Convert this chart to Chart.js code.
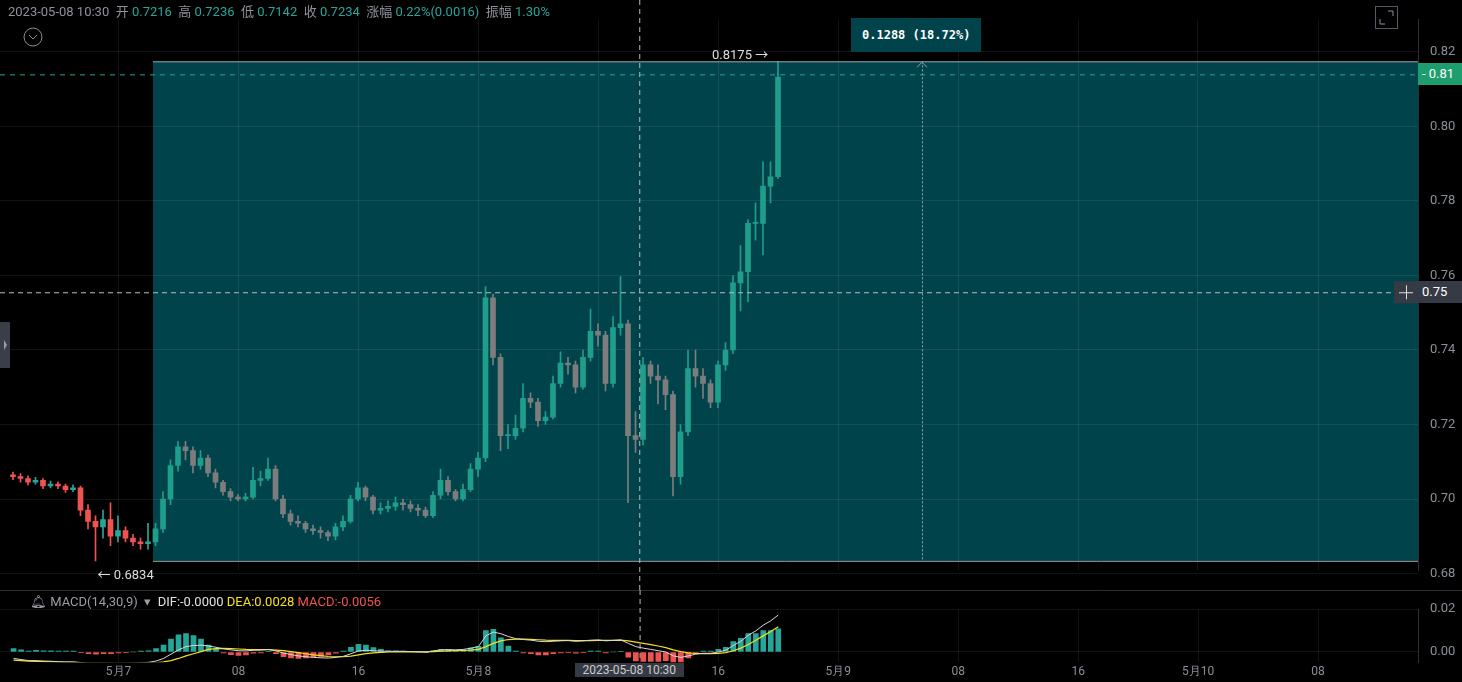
<!DOCTYPE html>
<html>
<head>
<meta charset="utf-8">
<script src="https://cdn.jsdelivr.net/npm/chart.js@4.4.0/dist/chart.umd.min.js"></script>
<style>
  body { margin: 0; background: #000; width: 1462px; height: 682px; overflow: hidden; font-family: Roboto, "Noto Sans CJK SC", sans-serif; }
  #wrap { position: relative; width: 1462px; height: 682px; }
  #main { position: absolute; left: 0; top: 0; }
  #macd { position: absolute; left: 0; top: 590px; }
  .lbl { position: absolute; white-space: nowrap; font-size: 13px; line-height: 16px; }
  #header { left: 8px; top: 4px; color: #8e919a; }
  #header b { font-weight: normal; color: #26a69a; }
  #macdLegend { left: 30px; top: 594px; color: #9a9da6; font-size: 13px; }
  .tag { position: absolute; font-size: 13px; line-height: 22px; height: 22px; width: 44px; padding-left: 4px; box-sizing: border-box; }
</style>
</head>
<body>
<div id="wrap">
  <canvas id="main" width="1462" height="590"></canvas>
  <canvas id="macd" width="1462" height="92"></canvas>
  <div class="lbl" id="header">2023-05-08 10:30 &nbsp;开 <b>0.7216</b> &nbsp;高 <b>0.7236</b> &nbsp;低 <b>0.7142</b> &nbsp;收 <b>0.7234</b> &nbsp;涨幅 <b>0.22%(0.0016)</b> &nbsp;振幅 <b>1.30%</b></div>
  <div class="lbl" id="macdLegend">🔔︎ MACD(14,30,9) &nbsp;▾ &nbsp;<span style="color:#e0e0e0">DIF:-0.0000</span> <span style="color:#f5e11b">DEA:0.0028</span> <span style="color:#ef5350">MACD:-0.0056</span></div>
  <div class="lbl" id="measure" style="background:#01434a;color:#fff;font-family:'DejaVu Sans Mono',monospace;font-weight:bold;font-size:12px;padding:9px 11px;">0.1288 (18.72%)</div>
  <div class="lbl" id="hiLbl" style="color:#ddd"></div>
  <div class="lbl" id="loLbl" style="color:#ddd"></div>
  <div class="tag" id="lastTag" style="background:#1e9e6e;color:#fff;">- 0.81</div>
  <div class="tag" id="crossTag" style="background:#363a45;color:#fff;">0.75</div>
  <div class="lbl" id="timeTag" style="background:#363a45;color:#ccc;font-size:12px;padding:0 8px;line-height:14px;">2023-05-08 10:30</div>
</div>
<script>
// 30-minute candles, hours counted from 2023-05-07 00:00
const firstHour = -7;
const firstOpen = 0.7065;
const closes = [0.706,0.7055,0.7045,0.705,0.7035,0.704,0.7035,0.7025,0.703,0.697,
  0.694,0.6925,0.6945,0.690,0.6915,0.6895,0.6885,0.688,0.6885,0.692,
  0.700,0.709,0.714,0.713,0.709,0.711,0.707,0.7045,0.702,0.7005,
  0.700,0.7005,0.705,0.7055,0.708,0.700,0.696,0.694,0.6935,0.692,
  0.6915,0.691,0.690,0.6925,0.694,0.700,0.703,0.7005,0.697,0.6975,
  0.698,0.699,0.6985,0.6975,0.697,0.6955,0.701,0.705,0.702,0.700,
  0.7025,0.708,0.711,0.754,0.738,0.717,0.717,0.719,0.727,0.726,
  0.721,0.722,0.731,0.7365,0.736,0.730,0.738,0.745,0.744,0.731,
  0.746,0.747,0.717,0.716,0.736,0.733,0.732,0.728,0.706,0.718,
  0.735,0.733,0.731,0.726,0.736,0.740,0.758,0.761,0.774,0.774,
  0.784,0.7865,0.8133];
const highs = [0.7072,0.7068,0.7062,0.7058,0.7055,0.7048,0.7046,0.704,0.7038,0.7035,
  0.6985,0.6955,0.697,0.699,0.6955,0.6925,0.6905,0.6895,0.6935,0.6935,
  0.702,0.7105,0.7155,0.7155,0.714,0.713,0.7118,0.708,0.705,0.7028,
  0.7012,0.7015,0.7085,0.7075,0.711,0.709,0.701,0.697,0.6955,0.694,
  0.693,0.6925,0.6915,0.6935,0.6955,0.701,0.7045,0.7035,0.701,0.699,
  0.6995,0.7005,0.700,0.6995,0.6985,0.6978,0.702,0.708,0.706,0.7025,
  0.704,0.7095,0.7125,0.757,0.755,0.739,0.720,0.7225,0.731,0.7285,
  0.727,0.7235,0.733,0.7395,0.738,0.737,0.740,0.751,0.747,0.745,
  0.749,0.7597,0.748,0.7235,0.738,0.737,0.736,0.733,0.729,0.720,
  0.740,0.740,0.735,0.732,0.737,0.742,0.760,0.768,0.775,0.7795,
  0.7905,0.7905,0.8175];
const lows = [0.7052,0.7045,0.7038,0.704,0.7028,0.703,0.7028,0.7018,0.702,0.6955,
  0.692,0.6834,0.6895,0.6875,0.6885,0.6885,0.6875,0.6865,0.6865,0.6875,
  0.691,0.6985,0.7075,0.7105,0.707,0.708,0.706,0.703,0.701,0.6995,
  0.6995,0.6995,0.700,0.7035,0.705,0.6995,0.695,0.693,0.6925,0.691,
  0.6905,0.6895,0.6888,0.689,0.6915,0.6935,0.6995,0.6995,0.696,0.696,
  0.6965,0.697,0.697,0.6965,0.6955,0.695,0.695,0.700,0.701,0.6995,
  0.6995,0.702,0.706,0.710,0.736,0.713,0.7135,0.716,0.718,0.7245,
  0.7195,0.720,0.7215,0.730,0.7335,0.7285,0.7295,0.737,0.741,0.729,
  0.730,0.744,0.699,0.7125,0.7145,0.731,0.7255,0.724,0.7008,0.704,
  0.717,0.730,0.727,0.7245,0.7245,0.7345,0.739,0.7505,0.753,0.7695,
  0.7655,0.7795,0.786];
const dif = [-0.003,-0.0035,-0.004,-0.004,-0.0042,-0.0043,-0.0045,-0.0046,-0.0046,
  -0.005,-0.0054,-0.0056,-0.0055,-0.0056,-0.0054,-0.0053,-0.0052,-0.005,-0.0048,
  -0.0042,-0.003,-0.001,0.001,0.0025,0.003,0.0032,
  0.0028,0.0022,0.0015,0.001,0.0006,0.0005,0.0008,0.0009,0.0012,
  0.0005,-0.0005,-0.0012,-0.0018,-0.0022,-0.0025,-0.0027,-0.0028,-0.0025,-0.002,
  -0.0008,0.0005,0.0008,0.0006,0.0004,0.0003,0.0003,0.0003,0.0002,0.0001,0.0,
  0.0005,0.001,0.0011,0.001,0.0012,0.0018,0.0025,
  0.0075,0.0093,0.0085,0.0072,0.0062,0.0058,0.0055,0.005,0.0048,0.005,
  0.0052,0.0053,0.005,0.0052,0.0055,0.0056,0.0052,0.0054,0.0056,
  0.004,0.0025,0.0018,0.0012,0.0006,0.0,-0.0018,-0.0025,-0.0018,-0.001,-0.0006,
  -0.0006,0.0,0.0008,0.003,0.005,0.0078,0.0098,0.0125,0.0145,0.0172];
const dea = [-0.0038,-0.004,-0.0042,-0.0044,-0.0045,-0.0046,-0.0047,-0.0048,-0.0048,
  -0.0049,-0.005,-0.0051,-0.0051,-0.0052,-0.0052,-0.0052,-0.0052,-0.0052,-0.0051,
  -0.005,-0.0046,-0.004,-0.003,-0.0018,-0.0008,0.0002,
  0.0012,0.0016,0.0017,0.0016,0.0014,0.0012,0.0011,0.0011,0.0011,
  0.0009,0.0006,0.0002,-0.0003,-0.0008,-0.0013,-0.0017,-0.0021,-0.0022,-0.0022,
  -0.0019,-0.0013,-0.0008,-0.0004,-0.0002,0.0,0.0,0.0001,0.0001,0.0001,0.0001,
  0.0002,0.0004,0.0005,0.0006,0.0007,0.0009,0.0012,
  0.0025,0.004,0.0052,0.0058,0.006,0.006,0.0059,0.0057,0.0055,0.0054,
  0.0054,0.0054,0.0053,0.0053,0.0053,0.0054,0.0054,0.0054,0.0055,
  0.0052,0.0046,0.004,0.0034,0.0028,0.002,0.001,0.0002,-0.0004,-0.0007,-0.0008,
  -0.0008,-0.0006,-0.0003,0.0006,0.0018,0.0035,0.0055,0.0075,0.0095,0.0118];
const xTicks = [0, 8, 16, 24, 32, 40, 48, 56, 64, 72, 80];
const xTickLabels = ["5月7", "08", "16", "5月8", "08", "16", "5月9", "08", "16", "5月10", "08"];
const priceTicks = [0.68, 0.70, 0.72, 0.74, 0.76, 0.78, 0.80, 0.82];
const macdTicks = [0.00, 0.02];
const rangeLow = 0.6834, rangeHigh = 0.8175;
const boxStartHour = 2.33, measureHour = 53.6;
const lastPrice = 0.814, crossPrice = 0.7555, crossHour = 34.75;

const hours = closes.map((c, i) => firstHour + i * 0.5);
const opens = closes.map((c, i) => i === 0 ? firstOpen : closes[i - 1]);
const hist = dif.map((d, i) => 2 * (d - dea[i]));

function candleColor(i) {
  const up = closes[i] >= opens[i];
  if (hours[i] >= boxStartHour) return up ? '#1f9e8c' : '#7d7d7d';
  return up ? '#26a69a' : '#ef5350';
}

// wanted screen mapping: hour h at 118 + 15h px; price v at 52 + (0.82 - v) * 3725 px
const hourAt = px => (px - 118) / 15;
const priceAt = py => 0.82 - (py - 52) / 3725;
const macdAt = py => 0.02 - (py - 609) / 2150;   // py in page pixels

const gridColor = 'rgba(255,255,255,0.075)';
const tickFont = { family: 'Roboto', size: 13 };

function xScale(showLabels) {
  return {
    type: 'linear', offset: false, min: -7.87, max: 86.67,
    afterBuildTicks: s => { s.ticks = xTicks.map(v => ({ value: v })); },
    ticks: { display: showLabels, color: '#8a8f98', font: { family: 'Roboto', size: 12 }, padding: 3, maxRotation: 0, autoSkip: false,
      callback: (v) => xTickLabels[xTicks.indexOf(v)] },
    grid: { color: gridColor, drawTicks: false, offset: false },
    border: { display: false },
    afterFit: s => { s.height = showLabels ? 14 : 0; }
  };
}
function yScale(min, max, ticks) {
  return {
    position: 'right', min: min, max: max,
    afterBuildTicks: s => { s.ticks = ticks.map(v => ({ value: v })); },
    ticks: { color: '#8a8f98', font: tickFont, padding: 12, callback: v => v.toFixed(2) },
    grid: { color: gridColor, drawTicks: false },
    border: { display: true, color: '#2a2e39' },
    afterFit: s => { s.width = 44; }
  };
}

// align scales with the wanted pixel mapping once the chart area is known
function fitScales(chart, yAt, top) {
  const a = chart.chartArea;
  chart.options.scales.x.min = hourAt(a.left);
  chart.options.scales.x.max = hourAt(a.right);
  chart.options.scales.y.max = yAt(a.top + top);
  chart.options.scales.y.min = yAt(a.bottom + top);
  chart.update('none');
}

function place(id, left, top, text) {
  const el = document.getElementById(id);
  if (text !== undefined) el.textContent = text;
  el.style.left = left + 'px';
  el.style.top = top + 'px';
}

const mainPlugin = {
  id: 'mainDecor',
  beforeDraw(chart) {
    const { ctx, chartArea: a, scales: { x, y } } = chart;
    ctx.save();
    ctx.fillStyle = '#000';
    ctx.fillRect(0, 0, chart.width, chart.height);
    const x0 = x.getPixelForValue(boxStartHour), yt = y.getPixelForValue(rangeHigh), yb = y.getPixelForValue(rangeLow);
    ctx.fillStyle = '#01434a';
    ctx.fillRect(x0, yt, a.right - x0, yb - yt);
    ctx.restore();
  },
  afterDatasetsDraw(chart) {
    const { ctx, chartArea: a, scales: { x, y } } = chart;
    const x0 = x.getPixelForValue(boxStartHour), yt = y.getPixelForValue(rangeHigh), yb = y.getPixelForValue(rangeLow);
    const xm = x.getPixelForValue(measureHour), xc = x.getPixelForValue(crossHour);
    ctx.save();
    ctx.strokeStyle = '#9aa4a8'; ctx.lineWidth = 1;
    ctx.beginPath(); ctx.moveTo(x0, yt + 0.5); ctx.lineTo(a.right, yt + 0.5);
    ctx.moveTo(x0, yb + 0.5); ctx.lineTo(a.right, yb + 0.5); ctx.stroke();
    ctx.setLineDash([2, 2]); ctx.strokeStyle = '#8fa5a8';
    ctx.beginPath(); ctx.moveTo(xm + 0.5, yt); ctx.lineTo(xm + 0.5, yb); ctx.stroke();
    ctx.setLineDash([]);
    ctx.beginPath(); ctx.moveTo(xm - 5, yt + 6); ctx.lineTo(xm, yt + 1); ctx.lineTo(xm + 5, yt + 6); ctx.stroke();
    const yl = y.getPixelForValue(lastPrice);
    ctx.setLineDash([5, 5]); ctx.strokeStyle = '#26a69a';
    ctx.beginPath(); ctx.moveTo(0, yl + 0.5); ctx.lineTo(a.right, yl + 0.5); ctx.stroke();
    const yc = y.getPixelForValue(crossPrice);
    ctx.strokeStyle = '#bbbbbb'; ctx.setLineDash([5, 4]);
    ctx.beginPath(); ctx.moveTo(0, yc + 0.5); ctx.lineTo(a.right, yc + 0.5);
    ctx.moveTo(xc + 0.5, 0); ctx.lineTo(xc + 0.5, chart.height); ctx.stroke();
    ctx.setLineDash([]);
    ctx.fillStyle = '#363a45'; ctx.fillRect(a.right - 24, yc - 11, 24, 22);
    ctx.strokeStyle = '#ddd';
    ctx.beginPath(); ctx.moveTo(a.right - 19, yc + 0.5); ctx.lineTo(a.right - 5, yc + 0.5);
    ctx.moveTo(a.right - 12 + 0.5, yc - 7); ctx.lineTo(a.right - 12 + 0.5, yc + 7); ctx.stroke();
    // icons
    ctx.strokeStyle = '#8a8f98';
    ctx.beginPath(); ctx.arc(33, 37, 9, 0, Math.PI * 2); ctx.stroke();
    ctx.beginPath(); ctx.moveTo(29, 35); ctx.lineTo(33, 39); ctx.lineTo(37, 35); ctx.stroke();
    ctx.strokeStyle = '#555a66'; ctx.strokeRect(1375.5, 6.5, 22, 22);
    ctx.strokeStyle = '#8a8f98';
    ctx.beginPath(); ctx.moveTo(1380, 19); ctx.lineTo(1380, 24); ctx.lineTo(1385, 24);
    ctx.moveTo(1388, 11); ctx.lineTo(1393, 11); ctx.lineTo(1393, 16); ctx.stroke();
    ctx.fillStyle = '#3a3e48'; ctx.fillRect(0, 322, 10, 46);
    ctx.fillStyle = '#9a9da6';
    ctx.beginPath(); ctx.moveTo(4, 340); ctx.lineTo(7, 345); ctx.lineTo(4, 350); ctx.fill();
    ctx.restore();

    place('measure', xm - 71, 18);
    const last = hours.length - 1;
    place('hiLbl', x.getPixelForValue(hours[last]) - 66, y.getPixelForValue(rangeHigh) - 14, rangeHigh.toFixed(4) + ' →');
    place('loLbl', x.getPixelForValue(hours[11]) + 2, y.getPixelForValue(rangeLow) + 6, '← ' + rangeLow.toFixed(4));
    place('lastTag', a.right, yl - 11);
    place('crossTag', a.right, yc - 11);
  }
};

const mainChart = new Chart(document.getElementById('main'), {
  type: 'bar',
  data: {
    datasets: [
      { data: hours.map((h, i) => ({ x: h, y: [lows[i], highs[i]] })), backgroundColor: ctx => candleColor(ctx.dataIndex), barThickness: 1, grouped: false },
      { data: hours.map((h, i) => ({ x: h, y: [opens[i], closes[i]] })), backgroundColor: ctx => candleColor(ctx.dataIndex), barThickness: 5, minBarLength: 1, grouped: false }
    ]
  },
  options: {
    responsive: false, animation: false,
    layout: { padding: 0 },
    plugins: { legend: { display: false }, tooltip: { enabled: false } },
    scales: { x: xScale(false), y: yScale(0.6756, 0.83396, priceTicks) }
  },
  plugins: [mainPlugin]
});
fitScales(mainChart, priceAt, 0);

const macdPlugin = {
  id: 'macdDecor',
  beforeDraw(chart) {
    const { ctx } = chart;
    ctx.save(); ctx.fillStyle = '#000'; ctx.fillRect(0, 0, chart.width, chart.height);
    ctx.strokeStyle = '#2a2e39'; ctx.beginPath(); ctx.moveTo(0, 0.5); ctx.lineTo(chart.width, 0.5); ctx.stroke();
    ctx.restore();
  },
  afterDraw(chart) {
    const { ctx, chartArea: a, scales: { x } } = chart;
    const xc = x.getPixelForValue(crossHour);
    ctx.save();
    ctx.strokeStyle = '#bbbbbb'; ctx.setLineDash([5, 4]);
    ctx.beginPath(); ctx.moveTo(xc + 0.5, 0); ctx.lineTo(xc + 0.5, a.bottom); ctx.stroke();
    ctx.restore();
    place('timeTag', xc - 65, 590 + a.bottom + 1);
  }
};

const macdChart = new Chart(document.getElementById('macd'), {
  data: {
    datasets: [
      { type: 'line', data: hours.map((h, i) => ({ x: h, y: dif[i] })), borderColor: '#d8d8d8', borderWidth: 1, pointRadius: 0 },
      { type: 'line', data: hours.map((h, i) => ({ x: h, y: dea[i] })), borderColor: '#f5e11b', borderWidth: 1.2, pointRadius: 0 },
      { type: 'bar', data: hours.map((h, i) => ({ x: h, y: hist[i] })), backgroundColor: ctx => hist[ctx.dataIndex] >= 0 ? '#26a69a' : '#ef5350', barThickness: 5, grouped: false }
    ]
  },
  options: {
    responsive: false, animation: false,
    layout: { padding: 0 },
    plugins: { legend: { display: false }, tooltip: { enabled: false } },
    scales: { x: xScale(true), y: yScale(-0.00744, 0.02884, macdTicks) }
  },
  plugins: [macdPlugin]
});
fitScales(macdChart, macdAt, 590);
</script>
</body>
</html>
